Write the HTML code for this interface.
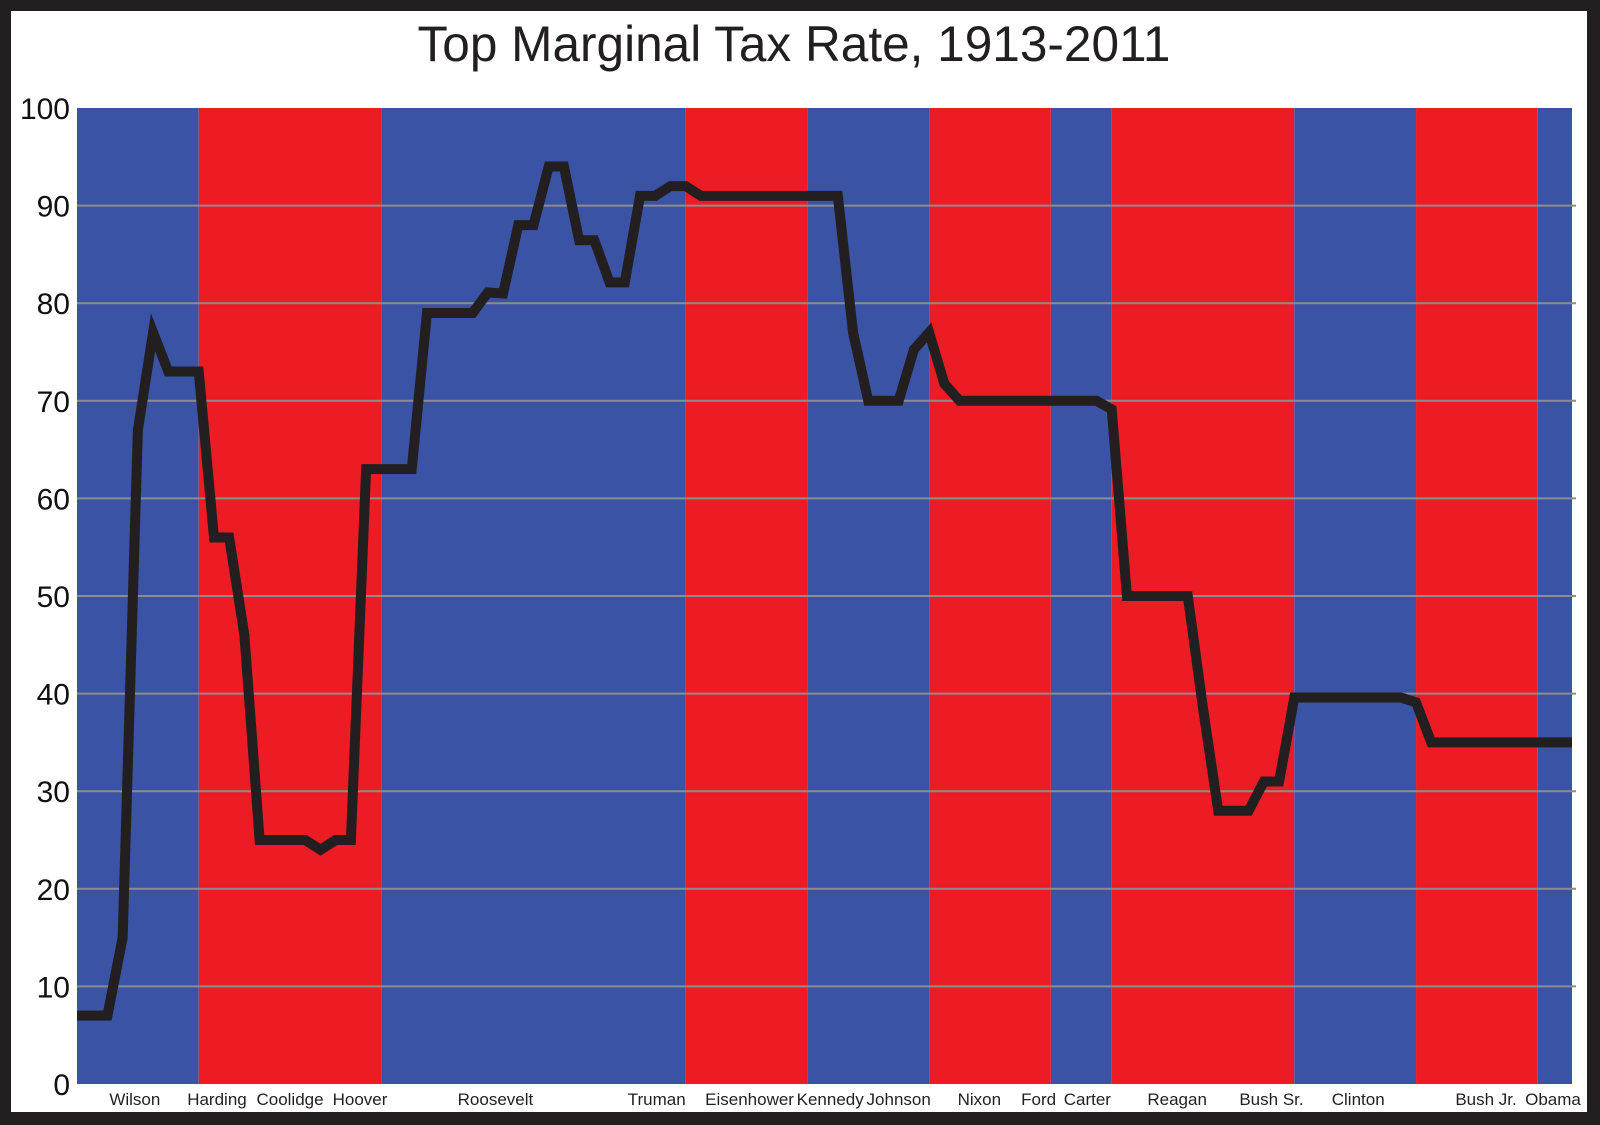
<!DOCTYPE html>
<html><head><meta charset="utf-8"><style>
html,body{margin:0;padding:0;background:#231f20;}
svg{display:block;}
</style></head><body>
<svg id="chart" width="1600" height="1125" xmlns="http://www.w3.org/2000/svg" font-family="Liberation Sans, Arial, sans-serif">
<rect x="0" y="0" width="1600" height="1125" fill="#231f20"/>
<rect x="11" y="11" width="1576" height="1101" fill="#ffffff"/>
<text x="794" y="61" text-anchor="middle" font-size="50" fill="#231f20" textLength="753" lengthAdjust="spacingAndGlyphs">Top Marginal Tax Rate, 1913-2011</text>
<g id="bands"></g><g id="grid"></g><g id="line"></g><g id="yticks"></g><g id="labels"></g>
</svg>
<script>
// data
const termStarts = [1913,1921,1933,1953,1961,1969,1977,1981,1993,2001,2009];
const termEnds   = [1921,1933,1953,1961,1969,1977,1981,1993,2001,2009,2011.25];
const termParty  = ['D','R','D','R','D','R','D','R','D','R','D'];
const years = [1913,1914,1915,1916,1917,1918,1919,1920,1921,1922,1923,1924,1925,1926,1927,1928,1929,1930,1931,1932,1933,1934,1935,1936,1937,1938,1939,1940,1941,1942,1943,1944,1945,1946,1947,1948,1949,1950,1951,1952,1953,1954,1955,1956,1957,1958,1959,1960,1961,1962,1963,1964,1965,1966,1967,1968,1969,1970,1971,1972,1973,1974,1975,1976,1977,1978,1979,1980,1981,1982,1983,1984,1985,1986,1987,1988,1989,1990,1991,1992,1993,1994,1995,1996,1997,1998,1999,2000,2001,2002,2003,2004,2005,2006,2007,2008,2009,2010,2011];
const rates = [7,7,7,15,67,77,73,73,73,56,56,46,25,25,25,25,24,25,25,63,63,63,63,79,79,79,79,81.1,81,88,88,94,94,86.45,86.45,82.13,82.13,91,91,92,92,91,91,91,91,91,91,91,91,91,91,77,70,70,70,75.25,77,71.75,70,70,70,70,70,70,70,70,70,70,69.13,50,50,50,50,50,38.5,28,28,28,31,31,39.6,39.6,39.6,39.6,39.6,39.6,39.6,39.6,39.1,35,35,35,35,35,35,35,35,35,35];
const yTicks = [0,10,20,30,40,50,60,70,80,90,100];
const presidents = ['Wilson','Harding','Coolidge','Hoover','Roosevelt','Truman','Eisenhower','Kennedy','Johnson','Nixon','Ford','Carter','Reagan','Bush Sr.','Clinton','Bush Jr.','Obama'];
const presidentYears = [1916.8,1922.2,1927.0,1931.6,1940.5,1951.1,1957.2,1962.5,1967.0,1972.3,1976.2,1979.4,1985.3,1991.5,1997.2,2005.6,2010.0];

const NS='http://www.w3.org/2000/svg';
const L=77,R=1572,T=108,B=1084;
const x=y=>L+(y-1913)/(2011.25-1913)*(R-L);
const yv=v=>B-v/100*(B-T);
function mk(tag,parent){const e=document.createElementNS(NS,tag);document.getElementById(parent).appendChild(e);return e;}

termStarts.forEach((s,i)=>{
  const r=mk('rect','bands');
  r.setAttribute('x',x(s));r.setAttribute('y',T);
  r.setAttribute('width',x(termEnds[i])-x(s));r.setAttribute('height',B-T);
  r.setAttribute('fill',termParty[i]==='D'?'#3a53a4':'#ed1c24');
  
  
});
yTicks.forEach(t=>{
  if(t>0&&t<100){
    const g=mk('line','grid');
    g.setAttribute('x1',L);g.setAttribute('x2',R+4);g.setAttribute('y1',yv(t));g.setAttribute('y2',yv(t));
    g.setAttribute('stroke','#8c8c8c');g.setAttribute('stroke-width','2');
    
    
  }
  const tx=mk('text','yticks');
  tx.setAttribute('x',70);tx.setAttribute('y',yv(t)+11);tx.setAttribute('text-anchor','end');
  tx.setAttribute('font-size','30');tx.setAttribute('fill','#111');
  tx.textContent=t;
  
  
});
let pts=years.map((yr,i)=>x(yr)+','+yv(rates[i]));
pts.push(R+','+yv(rates[rates.length-1]));
const pl=mk('polyline','line');
pl.setAttribute('points',pts.join(' '));
pl.setAttribute('fill','none');pl.setAttribute('stroke','#231f20');pl.setAttribute('stroke-width','10');
pl.setAttribute('stroke-linejoin','miter');


presidents.forEach((p,i)=>{
  const tx=mk('text','labels');
  tx.setAttribute('x',x(presidentYears[i]));tx.setAttribute('y',1105);
  tx.setAttribute('text-anchor','middle');tx.setAttribute('font-size','17');tx.setAttribute('fill','#231f20');
  tx.textContent=p;
  
  
});
</script>
</body></html>
